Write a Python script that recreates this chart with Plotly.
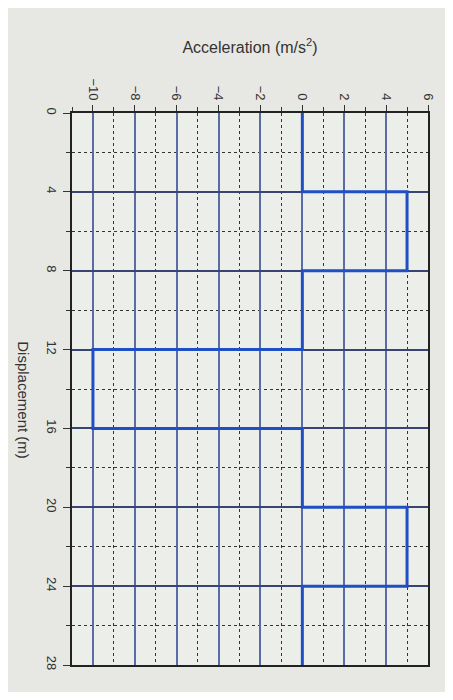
import plotly.graph_objects as go

# step chart: acceleration over displacement intervals
disp_edges = [0, 4, 8, 12, 16, 20, 24, 28]
accel = [0, 5, 0, -10, 0, 5, 0]

x_title = "Acceleration (m/s<sup>2</sup>)"
y_title = "Displacement (m)"

fig = go.Figure()

fig.add_trace(go.Scatter(
    x=accel + [accel[-1]],
    y=disp_edges,
    mode="lines",
    line=dict(shape="vh", color="#1f4fc4", width=3),
    showlegend=False,
))

# page body has an 8px margin, so size the figure a bit smaller
fig.update_layout(
    width=437, height=684,
    margin=dict(l=64, r=9, t=105, b=27),
    paper_bgcolor="#e7e8e3",
    plot_bgcolor="#eceee9",
    font=dict(family="Liberation Sans, Arial", color="#333", size=13),
    xaxis=dict(
        side="top", range=[-11, 6], tick0=0, dtick=2,
        tickangle=90, ticks="outside", ticklen=6, tickcolor="#333",
        showgrid=True, gridcolor="#5a6ca8", gridwidth=1.5,
        zeroline=False,
        showline=True, mirror=True, linecolor="#222", linewidth=2,
        minor=dict(dtick=1, ticks="outside", ticklen=4, tickcolor="#333",
                   showgrid=True, gridcolor="#333", griddash="dot", gridwidth=1),
        title=dict(text=x_title, font=dict(size=16), standoff=21),
    ),
    yaxis=dict(
        range=[28, 0], tick0=0, dtick=4,
        tickangle=90, ticks="outside", ticklen=7, tickcolor="#333",
        showgrid=True, gridcolor="#3a4472", gridwidth=1.5,
        zeroline=False,
        showline=True, mirror=True, linecolor="#222", linewidth=2,
        minor=dict(dtick=2, ticks="outside", ticklen=4, tickcolor="#333",
                   showgrid=True, gridcolor="#333", griddash="dot", gridwidth=1),
    ),
    annotations=[dict(
        text=y_title, textangle=90, showarrow=False,
        xref="paper", yref="paper", x=-0.165, y=0.48,
        font=dict(size=15, color="#333"),
    )],
)

fig.write_html("out.html")
